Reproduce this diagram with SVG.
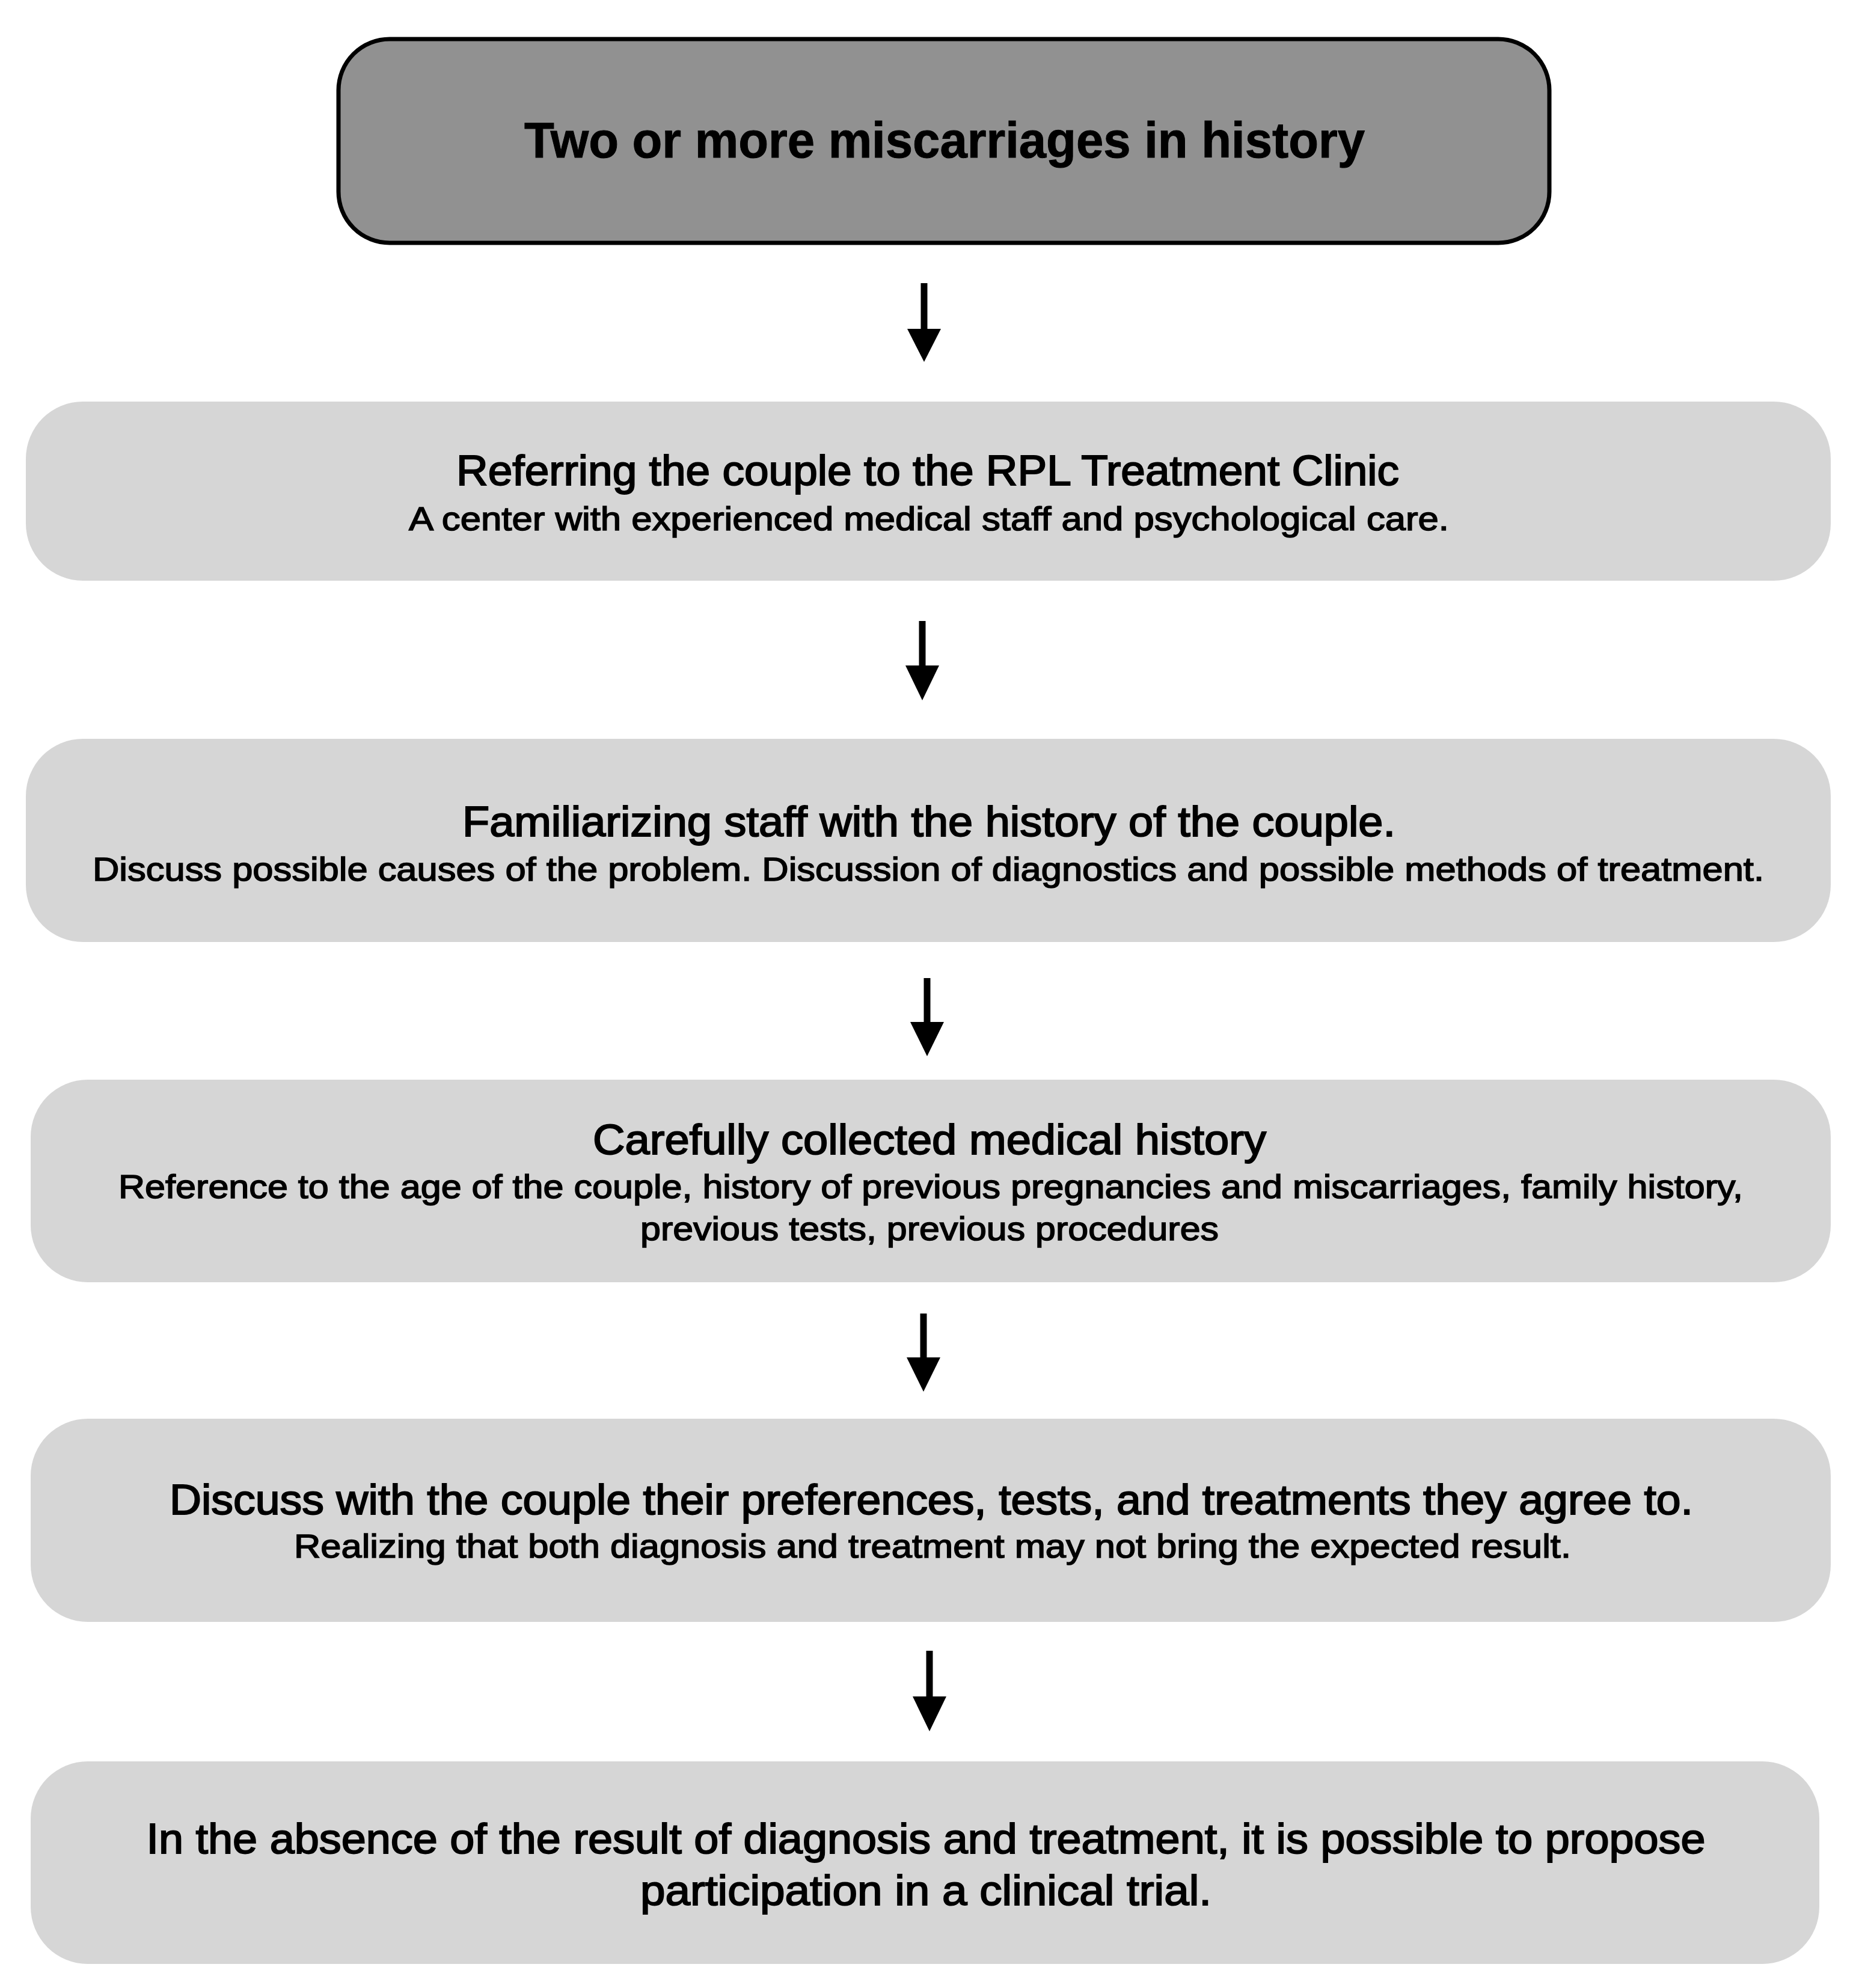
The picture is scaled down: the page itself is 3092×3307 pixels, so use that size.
<svg xmlns="http://www.w3.org/2000/svg" width="3092" height="3307" viewBox="0 0 3092 3307">
<defs>
<style>
.box{fill:#d6d6d6;}
.top{fill:#919191;stroke:#000;stroke-width:7;}
text{font-family:"Liberation Sans",Arial,Helvetica,sans-serif;fill:#000;text-anchor:middle;}
.t1{font-size:84px;font-weight:bold;stroke:#000;stroke-width:1px;}
.tt{font-size:70px;stroke:#000;stroke-width:2px;}
.ts{font-size:56px;stroke:#000;stroke-width:1.6px;}
.shaft{stroke:#000;stroke-width:11;fill:none;}
.head{fill:#000;}
</style>
</defs>
<rect width="3092" height="3307" fill="#fff"/>
<g id="connectors">
<line class="shaft" x1="1537" y1="471" x2="1537" y2="550"/>
<polygon class="head" points="1509,547 1565,547 1537,602"/>
<line class="shaft" x1="1534" y1="1033" x2="1534" y2="1110"/>
<polygon class="head" points="1506,1107 1562,1107 1534,1165"/>
<line class="shaft" x1="1542" y1="1627" x2="1542" y2="1703"/>
<polygon class="head" points="1514,1700 1570,1700 1542,1757"/>
<line class="shaft" x1="1536" y1="2185" x2="1536" y2="2261"/>
<polygon class="head" points="1508,2258 1564,2258 1536,2315"/>
<line class="shaft" x1="1546" y1="2746" x2="1546" y2="2825"/>
<polygon class="head" points="1518,2822 1574,2822 1546,2880"/>
</g>
<g id="n1">
<rect class="top" x="563" y="65" width="2014" height="339" rx="85" ry="85"/>
<text class="t1" x="1571" y="262" textLength="1398" lengthAdjust="spacingAndGlyphs">Two or more miscarriages in history</text>
</g>
<g id="n2">
<rect class="box" x="43" y="668" width="3002" height="298" rx="95" ry="95"/>
<text class="tt" x="1543" y="807" textLength="1568" lengthAdjust="spacingAndGlyphs">Referring the couple to the RPL Treatment Clinic</text>
<text class="ts" x="1545" y="882" textLength="1730" lengthAdjust="spacingAndGlyphs">A center with experienced medical staff and psychological care.</text>
</g>
<g id="n3">
<rect class="box" x="43" y="1229" width="3002" height="338" rx="95" ry="95"/>
<text class="tt" x="1545" y="1391" textLength="1552" lengthAdjust="spacingAndGlyphs">Familiarizing staff with the history of the couple.</text>
<text class="ts" x="1544" y="1465" textLength="2780" lengthAdjust="spacingAndGlyphs">Discuss possible causes of the problem. Discussion of diagnostics and possible methods of treatment.</text>
</g>
<g id="n4">
<rect class="box" x="51" y="1796" width="2994" height="337" rx="95" ry="95"/>
<text class="tt" x="1546" y="1920" textLength="1120" lengthAdjust="spacingAndGlyphs">Carefully collected medical history</text>
<text class="ts" x="1548" y="1993" textLength="2702" lengthAdjust="spacingAndGlyphs">Reference to the age of the couple, history of previous pregnancies and miscarriages, family history,</text>
<text class="ts" x="1546" y="2063" textLength="962" lengthAdjust="spacingAndGlyphs">previous tests, previous procedures</text>
</g>
<g id="n5">
<rect class="box" x="51" y="2360" width="2994" height="338" rx="95" ry="95"/>
<text class="tt" x="1549" y="2519" textLength="2534" lengthAdjust="spacingAndGlyphs">Discuss with the couple their preferences, tests, and treatments they agree to.</text>
<text class="ts" x="1551" y="2591" textLength="2124" lengthAdjust="spacingAndGlyphs">Realizing that both diagnosis and treatment may not bring the expected result.</text>
</g>
<g id="n6">
<rect class="box" x="51" y="2930" width="2975" height="337" rx="95" ry="95"/>
<text class="tt" x="1540" y="3083" textLength="2593" lengthAdjust="spacingAndGlyphs">In the absence of the result of diagnosis and treatment, it is possible to propose</text>
<text class="tt" x="1540" y="3169" textLength="950" lengthAdjust="spacingAndGlyphs">participation in a clinical trial.</text>
</g>
</svg>
